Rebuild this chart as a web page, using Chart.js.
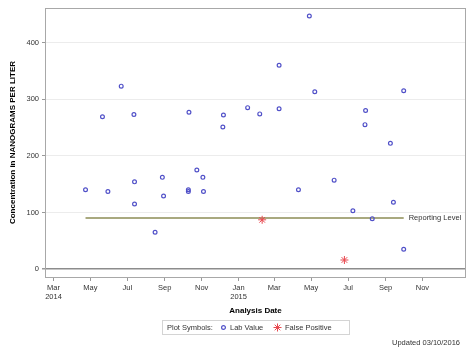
<!DOCTYPE html>
<html><head><meta charset="utf-8">
<script src="https://cdn.jsdelivr.net/npm/chart.js@4.4.1/dist/chart.umd.min.js"></script>
<style>
html,body{margin:0;padding:0;background:#fff;}
#wrap{position:relative;width:474px;height:355px;font-family:"Liberation Sans",Arial,sans-serif;color:#333;}
#c{position:absolute;left:0;top:0;}
#legend{position:absolute;left:162px;top:320px;width:186px;height:13px;border:1px solid #d4d4d4;font-size:7.5px;line-height:13px;}
#legend span,#legend svg{position:absolute;top:0;}
#foot{position:absolute;right:14px;top:338px;font-size:7.5px;line-height:10px;}
</style></head>
<body><div id="wrap">
<canvas id="c" width="474" height="355"></canvas>
<div id="legend">
  <span style="left:4px">Plot Symbols:</span>
  <svg style="left:56px;top:2px" width="9" height="9"><circle cx="4.5" cy="4.5" r="1.9" fill="none" stroke="#5050c8" stroke-width="1.2"/></svg>
  <span style="left:67px">Lab Value</span>
  <svg style="left:109px;top:1px" width="11" height="11"><g stroke="#e8484f" stroke-width="1"><line x1="5.5" y1="1.5" x2="5.5" y2="9.5"/><line x1="1.5" y1="5.5" x2="9.5" y2="5.5"/><line x1="2.7" y1="2.7" x2="8.3" y2="8.3"/><line x1="2.7" y1="8.3" x2="8.3" y2="2.7"/></g></svg>
  <span style="left:122px">False Positive</span>
</div>
<div id="foot">Updated 03/10/2016</div>
</div>
<script>
// ---- data ----
const labDates = ['2014-04-23','2014-05-21','2014-05-30','2014-06-21','2014-07-12','2014-07-13','2014-07-13',
  '2014-08-16','2014-08-28','2014-08-30','2014-10-10','2014-10-10','2014-10-11','2014-10-24','2014-11-03',
  '2014-11-04','2014-12-06','2014-12-07','2015-01-16','2015-02-05','2015-03-09','2015-03-09','2015-04-10',
  '2015-04-28','2015-05-07','2015-06-08','2015-07-09','2015-07-29','2015-07-30','2015-08-10','2015-09-09',
  '2015-09-14','2015-10-01','2015-10-01'];
const labValues = [140,269,137,323,273,154,115,65,162,129,140,137,277,175,162,137,251,272,285,274,360,283,
  140,447,313,157,103,255,280,89,222,118,315,35];
const fpDates = ['2015-02-09','2015-06-25'];
const fpValues = [87,16];
const reportingLevel = 90;
const reportingDates = ['2014-04-23','2015-10-01'];
const xTickDates = ['2014-03-01','2014-05-01','2014-07-01','2014-09-01','2014-11-01','2015-01-01',
  '2015-03-01','2015-05-01','2015-07-01','2015-09-01','2015-11-01'];
const xTickLabels = [['Mar','2014'],'May','Jul','Sep','Nov',['Jan','2015'],'Mar','May','Jul','Sep','Nov'];
const yTickValues = [0,100,200,300,400];
const xRange = ['2014-02-15','2016-01-12'];
const yRange = [-14,461];

function dayNum(s){const p=s.split('-');return Date.UTC(+p[0],+p[1]-1,+p[2])/86400000;}
const FONT='"Liberation Sans", Arial, sans-serif';

const framePlugin = {
  id:'frame',
  afterDatasetsDraw(chart){
    const {ctx, chartArea:a, scales} = chart;
    ctx.save();
    ctx.strokeStyle='#a8a8a8'; ctx.lineWidth=1;
    ctx.strokeRect(Math.round(a.left)+0.5, Math.round(a.top)+0.5, Math.round(a.right-a.left)-1, Math.round(a.bottom-a.top));
    const x = scales.x.getPixelForValue(dayNum(reportingDates[1]))+5;
    const y = scales.y.getPixelForValue(reportingLevel);
    ctx.fillStyle='#333'; ctx.font='7.5px '+FONT; ctx.textBaseline='middle'; ctx.textAlign='left';
    ctx.fillText('Reporting Level', x, y);
    ctx.restore();
  }
};

new Chart(document.getElementById('c'), {
  type:'scatter',
  data:{datasets:[
    {label:'Reporting Level', type:'line', data:reportingDates.map(d=>({x:dayNum(d),y:reportingLevel})),
     borderColor:'#a9a97f', borderWidth:2, pointRadius:0, order:3},
    {label:'Lab Value', data:labDates.map((d,i)=>({x:dayNum(d),y:labValues[i]})),
     pointStyle:'circle', pointRadius:1.9, borderWidth:1.2, borderColor:'#5050c8', backgroundColor:'rgba(0,0,0,0)', order:1},
    {label:'False Positive', data:fpDates.map((d,i)=>({x:dayNum(d),y:fpValues[i]})),
     pointStyle:'star', pointRadius:4, borderWidth:1, borderColor:'#e8484f', backgroundColor:'#e8484f', order:2}
  ]},
  options:{
    responsive:false, devicePixelRatio:1, animation:false,
    layout:{padding:{left:0,top:8,right:8,bottom:38}},
    plugins:{legend:{display:false}, tooltip:{enabled:false}},
    scales:{
      x:{type:'linear', min:dayNum(xRange[0]), max:dayNum(xRange[1]),
        afterBuildTicks(s){s.ticks=xTickDates.map(d=>({value:dayNum(d)}));},
        afterFit(s){s.height=40;},
        grid:{drawOnChartArea:false, drawTicks:true, tickLength:4, tickColor:'#999'},
        border:{display:false},
        ticks:{autoSkip:false, maxRotation:0, padding:2, color:'#333', font:{family:FONT,size:7.5,lineHeight:1.25},
          callback:(v,i)=>xTickLabels[i]},
        title:{display:true, text:'Analysis Date', color:'#000', font:{family:FONT,size:8,weight:'bold'}, padding:{top:0,bottom:1}}
      },
      y:{type:'linear', min:yRange[0], max:yRange[1],
        afterBuildTicks(s){s.ticks=yTickValues.map(v=>({value:v}));},
        afterFit(s){s.width=45;},
        grid:{color:c=>c.tick&&c.tick.value===0?'#8c8c8c':'#ececec', lineWidth:c=>c.tick&&c.tick.value===0?1.5:1,
          tickLength:3, tickColor:'#999'},
        border:{display:false},
        ticks:{padding:3, color:'#333', font:{family:FONT,size:7.5}},
        title:{display:true, text:'Concentration in NANOGRAMS PER LITER', color:'#000', font:{family:FONT,size:8,weight:'bold'}, padding:{top:7.5,bottom:0}}
      }
    }
  },
  plugins:[framePlugin]
});
</script>
</body></html>
